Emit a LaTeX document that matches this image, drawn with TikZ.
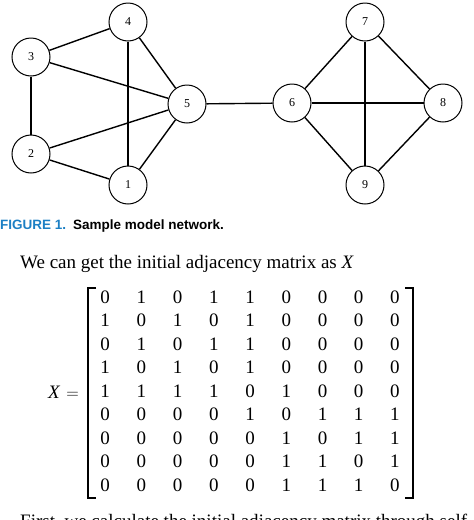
\documentclass[tikz,border=0pt]{standalone}
\usepackage{fontspec}
\setmainfont{Liberation Serif}
\newfontfamily\capfont{Liberation Sans}
\usetikzlibrary{matrix}
\definecolor{figblue}{RGB}{28,127,196}
\begin{document}
\begin{tikzpicture}[x=1pt,y=-1pt,
  vtx/.style={circle,draw,line width=1pt,minimum size=38pt,inner sep=0pt,fill=white,font=\fontsize{12}{12}\selectfont},
  edge/.style={line width=1.4pt},
  brk/.style={line width=1.4pt},
  body/.style={font=\fontsize{19}{19}\selectfont,inner sep=0pt}]
\useasboundingbox (0,0) rectangle (474,520);
\clip (0,0) rectangle (474,520);
% vertices
\node[vtx] (n4) at (128,22) {4};
\node[vtx] (n3) at (31,57) {3};
\node[vtx] (n5) at (187,104) {5};
\node[vtx] (n2) at (31,154) {2};
\node[vtx] (n1) at (128,185) {1};
\node[vtx] (n7) at (365,22) {7};
\node[vtx] (n6) at (292,103) {6};
\node[vtx] (n8) at (443,103) {8};
\node[vtx] (n9) at (365,185) {9};
% edges
\draw[edge] (n4) -- (n3);
\draw[edge] (n4) -- (n5);
\draw[edge] (n4) -- (n1);
\draw[edge] (n3) -- (n5);
\draw[edge] (n3) -- (n2);
\draw[edge] (n2) -- (n5);
\draw[edge] (n2) -- (n1);
\draw[edge] (n1) -- (n5);
\draw[edge] (n5) -- (n6);
\draw[edge] (n6) -- (n7);
\draw[edge] (n6) -- (n8);
\draw[edge] (n6) -- (n9);
\draw[edge] (n7) -- (n8);
\draw[edge] (n7) -- (n9);
\draw[edge] (n8) -- (n9);
% caption
\node[anchor=base west,inner sep=0pt,font=\capfont\bfseries\fontsize{13.5}{13.5}\selectfont] (cap) at (0,229)
  {\textcolor{figblue}{FIGURE 1.}\hspace{7pt}Sample model network.};
% text line
\node[body,anchor=base west] (txt) at (20,268) {We can get the initial adjacency matrix as \textit{X}};
% matrix
\node[body,anchor=base east] (xeq) at (79,398) {\textit{X}\hspace{6pt}$=$};
\matrix (m) at (250,391) [matrix of nodes, column sep=0pt, row sep=0pt,
  nodes={minimum width=36.25pt,minimum height=23.5pt,inner sep=0pt,anchor=center,font=\fontsize{19}{19}\selectfont}]
{
0 & 1 & 0 & 1 & 1 & 0 & 0 & 0 & 0 \\
1 & 0 & 1 & 0 & 1 & 0 & 0 & 0 & 0 \\
0 & 1 & 0 & 1 & 1 & 0 & 0 & 0 & 0 \\
1 & 0 & 1 & 0 & 1 & 0 & 0 & 0 & 0 \\
1 & 1 & 1 & 1 & 0 & 1 & 0 & 0 & 0 \\
0 & 0 & 0 & 0 & 1 & 0 & 1 & 1 & 1 \\
0 & 0 & 0 & 0 & 0 & 1 & 0 & 1 & 1 \\
0 & 0 & 0 & 0 & 0 & 1 & 1 & 0 & 1 \\
0 & 0 & 0 & 0 & 0 & 1 & 1 & 1 & 0 \\
};
\coordinate (lbt) at (88,288);
\coordinate (lbb) at (88,498);
\coordinate (rbt) at (413,288);
\coordinate (rbb) at (413,498);
\draw[brk] ([xshift=8pt]lbt) -- (lbt) -- (lbb) -- ([xshift=8pt]lbb);
\draw[brk] ([xshift=-8pt]rbt) -- (rbt) -- (rbb) -- ([xshift=-8pt]rbb);
% cut-off last line
\node[body,anchor=base west] (last) at (20,527) {First, we calculate the initial adjacency matrix through self};
\end{tikzpicture}
\end{document}
